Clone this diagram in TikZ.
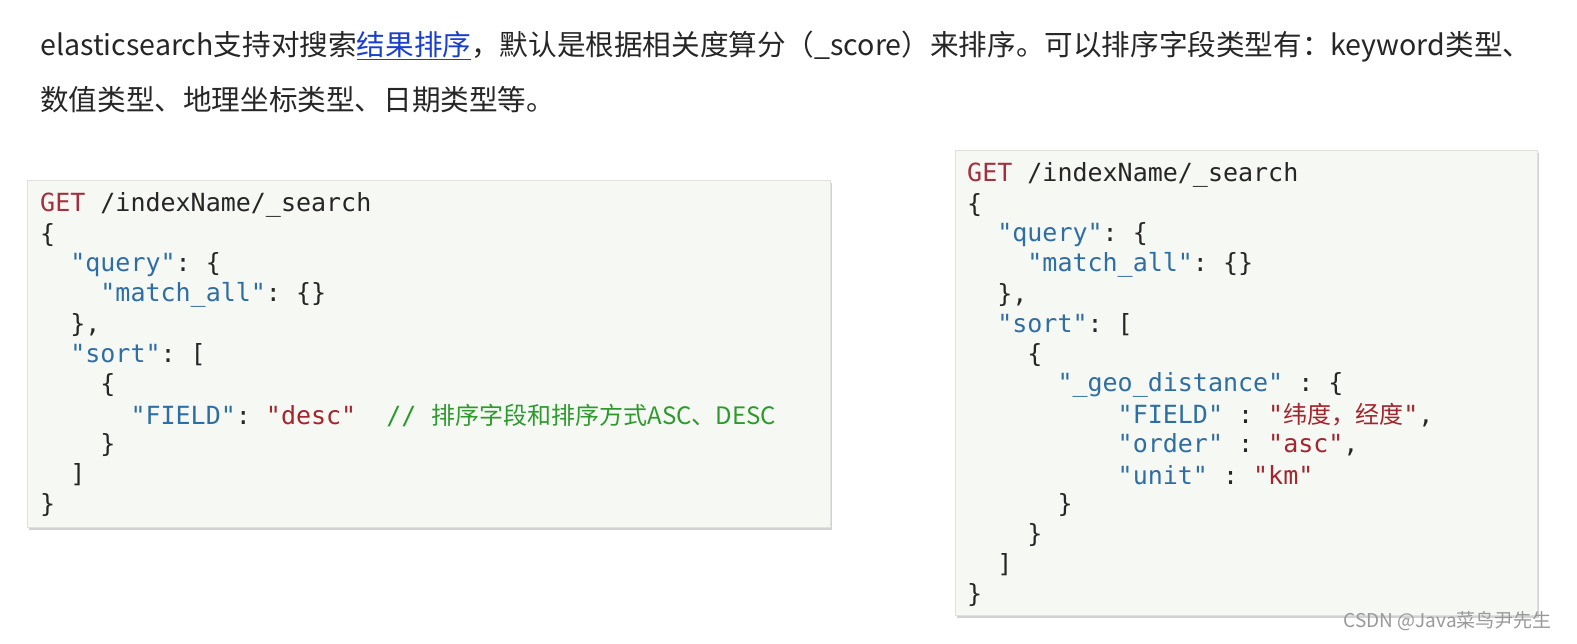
\documentclass[tikz,border=0pt]{standalone}
\usepackage{fontspec}
\setmonofont{DejaVu Sans Mono}
\newfontfamily\cjk{Noto Sans CJK SC}
\newfontfamily\cjkmono{Noto Sans CJK SC}
\usetikzlibrary{shadows}
\definecolor{kw}{HTML}{A3303C}
\definecolor{key}{HTML}{2F6EA3}
\definecolor{str}{HTML}{A3262E}
\definecolor{cmt}{HTML}{2E9A2E}
\definecolor{boxbg}{HTML}{F6F8F4}
\definecolor{lnk}{HTML}{1A3FCC}
\newcommand{\K}[1]{\textcolor{key}{#1}}
\newcommand{\Sv}[1]{\textcolor{str}{#1}}
\begin{document}
\begin{tikzpicture}[x=1pt,y=-1pt,
  codebox/.style={fill=boxbg,draw=black!12,line width=0.6pt,drop shadow={opacity=0.35,shadow xshift=2pt,shadow yshift=-3pt}},
  code/.style={anchor=west,inner sep=0pt,font=\ttfamily\fontsize{25}{30}\selectfont,color=black!85},
  head/.style={anchor=west,inner sep=0pt,font=\cjk\fontsize{28.6}{32}\selectfont,color=black!85}]
\useasboundingbox (0,0) rectangle (1577,643);
\fill[white] (0,0) rectangle (1577,643);
\node[head] (h1) at (40,47) {elasticsearch支持对搜索\textcolor{lnk}{\underline{结果排序}}，默认是根据相关度算分（\_score）来排序。可以排序字段类型有：keyword类型、};
\node[head] (h2) at (40,100) {数值类型、地理坐标类型、日期类型等。};
% left box
\path[codebox] (27,180) rectangle (830,527);
\node[code] (l1) at (40,205) {\textcolor{kw}{GET} /indexName/\_search};
\node[code] (l2) at (40,235) {\{};
\node[code] (l3) at (40,265) {\ \ \K{"query"}: \{};
\node[code] (l4) at (40,295) {\ \ \ \ \K{"match\_all"}: \{\}};
\node[code] (l5) at (40,325) {\ \ \},};
\node[code] (l6) at (40,355) {\ \ \K{"sort"}: [};
\node[code] (l7) at (40,385) {\ \ \ \ \{};
\node[code] (l8) at (40,415) {\ \ \ \ \ \ \K{"FIELD"}: \Sv{"desc"}\ \ \textcolor{cmt}{// {\cjkmono\fontsize{24}{30}\selectfont 排序字段和排序方式ASC、DESC}}};
\node[code] (l9) at (40,445) {\ \ \ \ \}};
\node[code] (l10) at (40,475) {\ \ ]};
\node[code] (l11) at (40,505) {\}};
% right box
\path[codebox] (955,150) rectangle (1537,615);
\node[code] (r1) at (967,175) {\textcolor{kw}{GET} /indexName/\_search};
\node[code] (r2) at (967,205) {\{};
\node[code] (r3) at (967,235) {\ \ \K{"query"}: \{};
\node[code] (r4) at (967,265) {\ \ \ \ \K{"match\_all"}: \{\}};
\node[code] (r5) at (967,295) {\ \ \},};
\node[code] (r6) at (967,325) {\ \ \K{"sort"}: [};
\node[code] (r7) at (967,355) {\ \ \ \ \{};
\node[code] (r8) at (967,385) {\ \ \ \ \ \ \K{"\_geo\_distance"} : \{};
\node[code] (r9) at (967,415) {\ \ \ \ \ \ \ \ \ \ \K{"FIELD"} : \Sv{"{\cjkmono\fontsize{24}{30}\selectfont 纬度，经度}"},};
\node[code] (r10) at (967,445) {\ \ \ \ \ \ \ \ \ \ \K{"order"} : \Sv{"asc"},};
\node[code] (r11) at (967,475) {\ \ \ \ \ \ \ \ \ \ \K{"unit"} : \Sv{"km"}};
\node[code] (r12) at (967,505) {\ \ \ \ \ \ \}};
\node[code] (r13) at (967,535) {\ \ \ \ \}};
\node[code] (r14) at (967,565) {\ \ ]};
\node[code] (r15) at (967,595) {\}};
\node[anchor=east,inner sep=0pt,font=\cjk\fontsize{19}{22}\selectfont,color=black!40] (wm) at (1552,621) {CSDN @Java菜鸟尹先生};
\end{tikzpicture}
\end{document}
